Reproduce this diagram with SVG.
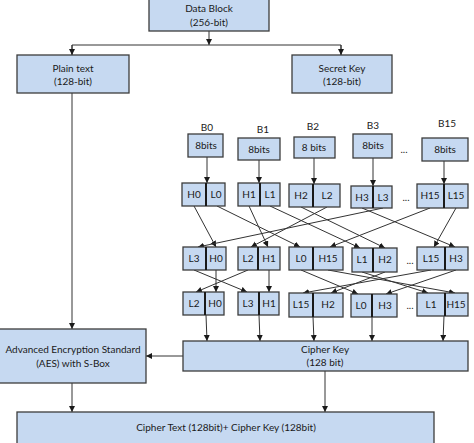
<svg xmlns="http://www.w3.org/2000/svg" width="474" height="443" viewBox="0 0 474 443">
<style>
.bx{fill:#c6d9f1;stroke:#3c3c3c;stroke-width:1.3}
.dv{stroke:#1a1a1a;stroke-width:2}
.t{font-family:"Lato","Liberation Sans",sans-serif;font-size:10px;fill:#1a1a1a;text-anchor:middle}
.c{stroke:#333;stroke-width:1;fill:none;marker-end:url(#ah)}
.cn{stroke:#333;stroke-width:1;fill:none}
</style>
<defs>
<marker id="ah" markerWidth="7" markerHeight="7" refX="6" refY="3" orient="auto" markerUnits="userSpaceOnUse"><path d="M0,0 L6,3 L0,6 z" fill="#1a1a1a"/></marker>
</defs>
<rect width="474" height="443" fill="#fff"/>
<g id="connectors">
<line class="c" x1="209" y1="31" x2="209" y2="45"/>
<polyline class="cn" points="72,55 72,45 341,45 341,55"/>
<line class="c" x1="72" y1="45" x2="72" y2="55"/>
<line class="c" x1="341" y1="45" x2="341" y2="55"/>
<line class="c" x1="72" y1="93" x2="72" y2="329"/>
<line class="c" x1="207" y1="157" x2="207" y2="183"/>
<line class="c" x1="259" y1="160" x2="259" y2="183"/>
<line class="c" x1="314" y1="158" x2="314" y2="184"/>
<line class="c" x1="373" y1="158" x2="373" y2="186"/>
<line class="c" x1="444" y1="161" x2="444" y2="184"/>
<line class="c" x1="194" y1="206" x2="216" y2="247"/>
<line class="c" x1="217" y1="206" x2="300" y2="247"/>
<line class="c" x1="249" y1="206" x2="268" y2="247"/>
<line class="c" x1="270" y1="206" x2="360" y2="248"/>
<line class="c" x1="301" y1="207" x2="385" y2="248"/>
<line class="c" x1="327" y1="207" x2="251" y2="247"/>
<line class="c" x1="362" y1="208" x2="455" y2="247"/>
<line class="c" x1="383" y1="208" x2="198" y2="247"/>
<line class="c" x1="430" y1="208" x2="330" y2="247"/>
<line class="c" x1="456" y1="208" x2="434" y2="247"/>
<line class="c" x1="216" y1="270" x2="216" y2="292"/>
<line class="c" x1="194" y1="270" x2="247" y2="292"/>
<line class="c" x1="248" y1="270" x2="196" y2="292"/>
<line class="c" x1="269" y1="270" x2="269" y2="292"/>
<line class="c" x1="301" y1="270" x2="358" y2="294"/>
<line class="c" x1="328" y1="270" x2="455" y2="293"/>
<line class="c" x1="362" y1="272" x2="428" y2="293"/>
<line class="c" x1="385" y1="272" x2="331" y2="293"/>
<line class="c" x1="431" y1="270" x2="303" y2="293"/>
<line class="c" x1="456" y1="270" x2="386" y2="294"/>
<line class="c" x1="206" y1="315" x2="207" y2="341"/>
<line class="c" x1="259" y1="315" x2="260" y2="341"/>
<line class="c" x1="313" y1="317" x2="314" y2="341"/>
<line class="c" x1="372" y1="317" x2="372" y2="341"/>
<line class="c" x1="444" y1="316" x2="443" y2="341"/>
<line class="c" x1="183" y1="356" x2="146" y2="356"/>
<line class="c" x1="72" y1="383" x2="72" y2="412"/>
<line class="c" x1="325" y1="371" x2="325" y2="412"/>
</g>
<g id="data-block"><rect class="bx" x="149" y="-2" width="120" height="33"/><text class="t" x="209" y="12">Data Block</text><text class="t" x="209" y="26">(256-bit)</text></g>
<g id="plain-text"><rect class="bx" x="17" y="55" width="112" height="38"/><text class="t" x="73" y="72">Plain text</text><text class="t" x="73" y="85">(128-bit)</text></g>
<g id="secret-key"><rect class="bx" x="292" y="55" width="100" height="38"/><text class="t" x="342" y="72">Secret Key</text><text class="t" x="342" y="85">(128-bit)</text></g>
<g id="b0"><text class="t" x="207" y="131">B0</text><rect class="bx" x="188" y="134" width="35" height="23"/><text class="t" x="206" y="149">8bits</text></g>
<g id="b1"><text class="t" x="263" y="133">B1</text><rect class="bx" x="238" y="138" width="42" height="22"/><text class="t" x="259" y="153">8bits</text></g>
<g id="b2"><text class="t" x="313" y="130">B2</text><rect class="bx" x="294" y="137" width="41" height="21"/><text class="t" x="314" y="151">8 bits</text></g>
<g id="b3"><text class="t" x="373" y="129">B3</text><rect class="bx" x="353" y="134" width="39" height="24"/><text class="t" x="373" y="149">8bits</text></g>
<text class="t" x="404" y="153">...</text>
<g id="b15"><text class="t" x="447" y="127">B15</text><rect class="bx" x="422" y="138" width="46" height="23"/><text class="t" x="445" y="153">8bits</text></g>
<g id="hl0"><rect class="bx" x="182" y="183" width="43" height="23"/><line class="dv" x1="206" y1="183" x2="206" y2="206"/><text class="t" x="194" y="198">H0</text><text class="t" x="216" y="198">L0</text></g>
<g id="hl1"><rect class="bx" x="238" y="183" width="42" height="23"/><line class="dv" x1="260" y1="183" x2="260" y2="206"/><text class="t" x="249" y="198">H1</text><text class="t" x="270" y="198">L1</text></g>
<g id="hl2"><rect class="bx" x="289" y="184" width="51" height="23"/><line class="dv" x1="313" y1="184" x2="313" y2="207"/><text class="t" x="301" y="199">H2</text><text class="t" x="327" y="199">L2</text></g>
<g id="hl3"><rect class="bx" x="351" y="186" width="41" height="22"/><line class="dv" x1="373" y1="186" x2="373" y2="208"/><text class="t" x="362" y="201">H3</text><text class="t" x="383" y="201">L3</text></g>
<text class="t" x="406" y="201">...</text>
<g id="hl15"><rect class="bx" x="417" y="184" width="51" height="24"/><line class="dv" x1="444" y1="184" x2="444" y2="208"/><text class="t" x="430" y="199">H15</text><text class="t" x="456" y="199">L15</text></g>
<g id="m1"><rect class="bx" x="183" y="247" width="43" height="23"/><line class="dv" x1="206" y1="247" x2="206" y2="270"/><text class="t" x="194" y="262">L3</text><text class="t" x="216" y="262">H0</text></g>
<g id="m2"><rect class="bx" x="238" y="247" width="42" height="23"/><line class="dv" x1="258" y1="247" x2="258" y2="270"/><text class="t" x="248" y="262">L2</text><text class="t" x="269" y="262">H1</text></g>
<g id="m3"><rect class="bx" x="289" y="247" width="54" height="23"/><line class="dv" x1="313" y1="247" x2="313" y2="270"/><text class="t" x="301" y="262">L0</text><text class="t" x="328" y="262">H15</text></g>
<g id="m4"><rect class="bx" x="352" y="248" width="45" height="24"/><line class="dv" x1="373" y1="248" x2="373" y2="272"/><text class="t" x="362" y="263">L1</text><text class="t" x="385" y="263">H2</text></g>
<text class="t" x="410" y="264">...</text>
<g id="m5"><rect class="bx" x="417" y="247" width="51" height="23"/><line class="dv" x1="445" y1="247" x2="445" y2="270"/><text class="t" x="431" y="262">L15</text><text class="t" x="456" y="262">H3</text></g>
<g id="n1"><rect class="bx" x="183" y="292" width="41" height="23"/><line class="dv" x1="205" y1="292" x2="205" y2="315"/><text class="t" x="194" y="307">L2</text><text class="t" x="215" y="307">H0</text></g>
<g id="n2"><rect class="bx" x="238" y="292" width="41" height="23"/><line class="dv" x1="259" y1="292" x2="259" y2="315"/><text class="t" x="248" y="307">L3</text><text class="t" x="269" y="307">H1</text></g>
<g id="n3"><rect class="bx" x="289" y="293" width="54" height="24"/><line class="dv" x1="313" y1="293" x2="313" y2="317"/><text class="t" x="301" y="308">L15</text><text class="t" x="328" y="308">H2</text></g>
<g id="n4"><rect class="bx" x="351" y="294" width="46" height="23"/><line class="dv" x1="372" y1="294" x2="372" y2="317"/><text class="t" x="361" y="309">L0</text><text class="t" x="385" y="309">H3</text></g>
<text class="t" x="410" y="309">...</text>
<g id="n5"><rect class="bx" x="417" y="293" width="51" height="23"/><line class="dv" x1="445" y1="293" x2="445" y2="316"/><text class="t" x="431" y="308">L1</text><text class="t" x="456" y="308">H15</text></g>
<g id="aes"><rect class="bx" x="-1" y="329" width="147" height="54"/><text class="t" x="73" y="353">Advanced Encryption Standard</text><text class="t" x="73" y="367">(AES) with S-Box</text></g>
<g id="cipher-key"><rect class="bx" x="183" y="341" width="285" height="30"/><text class="t" x="325" y="353">Cipher Key</text><text class="t" x="325" y="366">(128 bit)</text></g>
<g id="output"><rect class="bx" x="17" y="412" width="417" height="35"/><text class="t" x="226" y="431">Cipher Text (128bit)+ Cipher Key (128bit)</text></g>
</svg>
